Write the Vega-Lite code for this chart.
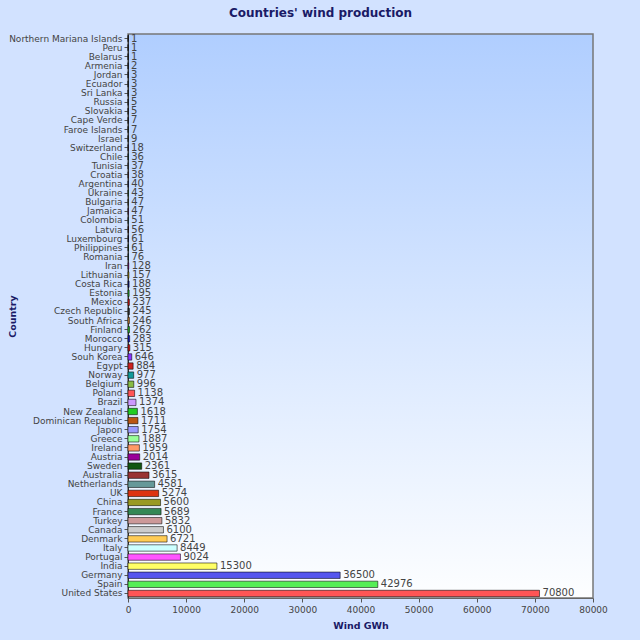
{
  "$schema": "https://vega.github.io/schema/vega-lite/v6.json",
  "description": "Horizontal bar chart of wind production by country",
  "autosize": {"type": "none"},
  "padding": {"left": 128, "top": 34, "right": 47, "bottom": 42},
  "width": 465,
  "height": 564,
  "background": "#d2e2ff",
  "title": {
    "text": "Countries' wind production",
    "font": "DejaVu Sans", "fontSize": 12, "fontWeight": "bold",
    "color": "#1a1a66", "anchor": "middle", "dx": -40, "offset": 14
  },
  "data": {
    "values": [
      {"country": "Northern Mariana Islands", "gwh": 1},
      {"country": "Peru", "gwh": 1},
      {"country": "Belarus", "gwh": 1},
      {"country": "Armenia", "gwh": 2},
      {"country": "Jordan", "gwh": 3},
      {"country": "Ecuador", "gwh": 3},
      {"country": "Sri Lanka", "gwh": 3},
      {"country": "Russia", "gwh": 5},
      {"country": "Slovakia", "gwh": 5},
      {"country": "Cape Verde", "gwh": 7},
      {"country": "Faroe Islands", "gwh": 7},
      {"country": "Israel", "gwh": 9},
      {"country": "Switzerland", "gwh": 18},
      {"country": "Chile", "gwh": 36},
      {"country": "Tunisia", "gwh": 37},
      {"country": "Croatia", "gwh": 38},
      {"country": "Argentina", "gwh": 40},
      {"country": "Ukraine", "gwh": 43},
      {"country": "Bulgaria", "gwh": 47},
      {"country": "Jamaica", "gwh": 47},
      {"country": "Colombia", "gwh": 51},
      {"country": "Latvia", "gwh": 56},
      {"country": "Luxembourg", "gwh": 61},
      {"country": "Philippines", "gwh": 61},
      {"country": "Romania", "gwh": 76},
      {"country": "Iran", "gwh": 128},
      {"country": "Lithuania", "gwh": 157},
      {"country": "Costa Rica", "gwh": 188},
      {"country": "Estonia", "gwh": 195},
      {"country": "Mexico", "gwh": 237},
      {"country": "Czech Republic", "gwh": 245},
      {"country": "South Africa", "gwh": 246},
      {"country": "Finland", "gwh": 262},
      {"country": "Morocco", "gwh": 283},
      {"country": "Hungary", "gwh": 315},
      {"country": "Souh Korea", "gwh": 646},
      {"country": "Egypt", "gwh": 884},
      {"country": "Norway", "gwh": 977},
      {"country": "Belgium", "gwh": 996},
      {"country": "Poland", "gwh": 1138},
      {"country": "Brazil", "gwh": 1374},
      {"country": "New Zealand", "gwh": 1618},
      {"country": "Dominican Republic", "gwh": 1711},
      {"country": "Japon", "gwh": 1754},
      {"country": "Greece", "gwh": 1887},
      {"country": "Ireland", "gwh": 1959},
      {"country": "Austria", "gwh": 2014},
      {"country": "Sweden", "gwh": 2361},
      {"country": "Australia", "gwh": 3615},
      {"country": "Netherlands", "gwh": 4581},
      {"country": "UK", "gwh": 5274},
      {"country": "China", "gwh": 5600},
      {"country": "France", "gwh": 5689},
      {"country": "Turkey", "gwh": 5832},
      {"country": "Canada", "gwh": 6100},
      {"country": "Denmark", "gwh": 6721},
      {"country": "Italy", "gwh": 8449},
      {"country": "Portugal", "gwh": 9024},
      {"country": "India", "gwh": 15300},
      {"country": "Germany", "gwh": 36500},
      {"country": "Spain", "gwh": 42976},
      {"country": "United States", "gwh": 70800}
    ]
  },
  "encoding": {
    "y": {
      "field": "country", "type": "nominal", "sort": null,
      "scale": {"paddingInner": 0.3, "paddingOuter": 0.15},
      "axis": {
        "title": "Country", "titleFont": "DejaVu Sans", "titleFontSize": 9.5,
        "titleFontWeight": "bold", "titleColor": "#1a1a66",
        "titleAngle": -90, "titleX": -121, "titleY": 282, "titleAlign": "center", "titleBaseline": "top",
        "labelFont": "DejaVu Sans", "labelFontSize": 9, "labelColor": "#444444",
        "labelPadding": 2, "tickSize": 4, "tickColor": "#555555",
        "domainColor": "#333333", "grid": false
      }
    },
    "x": {
      "field": "gwh", "type": "quantitative",
      "scale": {"domain": [0, 80000], "nice": false},
      "axis": {
        "title": "Wind GWh", "titleFont": "DejaVu Sans", "titleFontSize": 9.5,
        "titleFontWeight": "bold", "titleColor": "#1a1a66", "titlePadding": 6,
        "values": [0, 10000, 20000, 30000, 40000, 50000, 60000, 70000, 80000],
        "format": "d",
        "labelFont": "DejaVu Sans", "labelFontSize": 9, "labelColor": "#444444",
        "labelPadding": 3, "tickSize": 4, "tickColor": "#555555",
        "domainColor": "#666666", "grid": false, "labelFlush": false
      }
    }
  },
  "layer": [
    {
      "mark": {"type": "bar", "stroke": "#000000", "strokeOpacity": 0.55, "strokeWidth": 1},
      "encoding": {
        "color": {
          "field": "country", "type": "nominal", "sort": null, "legend": null,
          "scale": {
            "range": [
              "#ff5555", "#5555ff", "#55ff55", "#ffff55", "#ff55ff", "#55ffff",
              "#ffafaf", "#808080", "#c00000", "#0000c0", "#00c000", "#c0c000",
              "#c000c0", "#00c0c0", "#c0c0c0", "#ff4040", "#4040ff", "#40ff40",
              "#c0c040", "#ff40ff", "#40c0c0", "#800000", "#000080", "#008000",
              "#229999", "#cc22cc", "#ccaa00", "#111188", "#22bb22", "#ee1111",
              "#333333", "#dd8833", "#22cc22", "#1111cc", "#dd1111", "#8833ff",
              "#cc2222", "#119999", "#88bb44", "#ff5555", "#cc99ff", "#22cc22",
              "#bb5511", "#9999ff", "#99ff99", "#ff9966", "#990099", "#115511",
              "#993333", "#669999", "#dd3311", "#999922", "#338855", "#cc9999",
              "#cccccc", "#ffcc55", "#ccffff", "#ff55ff", "#ffff66", "#5555ee",
              "#55ee55", "#ff5555"
            ]
          }
        }
      }
    },
    {
      "mark": {
        "type": "text", "align": "left", "baseline": "middle", "dx": 3,
        "font": "DejaVu Sans", "fontSize": 10, "color": "#444444"
      },
      "encoding": {"text": {"field": "gwh", "type": "quantitative", "format": "d"}}
    }
  ],
  "config": {
    "view": {
      "stroke": "#777777", "strokeWidth": 1.5,
      "fill": {
        "gradient": "linear", "x1": 0, "y1": 0, "x2": 0, "y2": 1,
        "stops": [{"offset": 0, "color": "#b0ceff"}, {"offset": 1, "color": "#fdfeff"}]
      }
    }
  }
}
